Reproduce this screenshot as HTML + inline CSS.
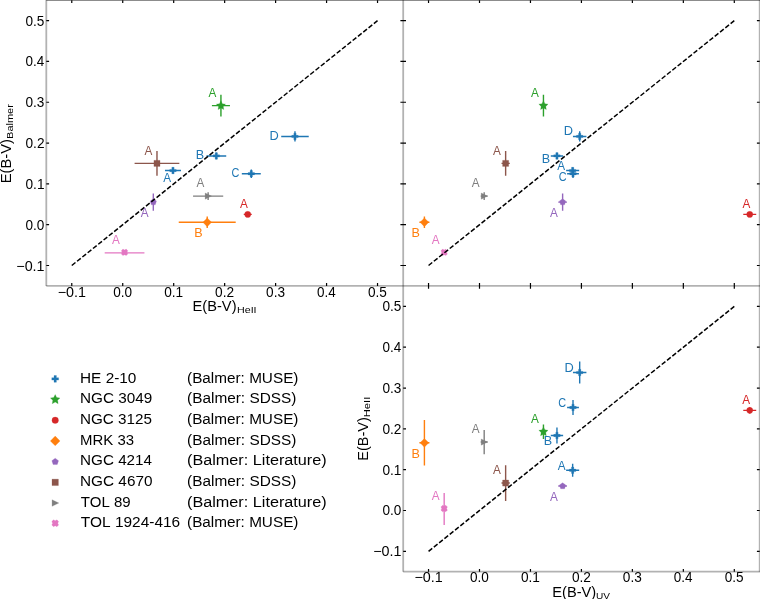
<!DOCTYPE html>
<html><head><meta charset="utf-8"><style>
html,body{margin:0;padding:0;background:#fff;}
body{width:760px;height:599px;overflow:hidden;}
svg{display:block;will-change:transform;font-family:"Liberation Sans",sans-serif;font-kerning:none;}
</style></head><body>
<svg width="760" height="599" viewBox="0 0 760 599" font-family="Liberation Sans, sans-serif">
<rect width="760" height="599" fill="#fff"/>
<line x1="46.3" y1="0" x2="46.3" y2="285.9" stroke="#000" stroke-opacity="0.30" stroke-width="1.8" fill="none"/>
<line x1="46.3" y1="0.4" x2="760" y2="0.4" stroke="#000" stroke-opacity="0.45" stroke-width="1.4"/>
<line x1="46.3" y1="285.9" x2="760" y2="285.9" stroke="#000" stroke-opacity="0.30" stroke-width="1.8" fill="none"/>
<line x1="403.2" y1="0" x2="403.2" y2="571.7" stroke="#000" stroke-opacity="0.30" stroke-width="1.8" fill="none"/>
<line x1="759.7" y1="0" x2="759.7" y2="571.7" stroke="#000" stroke-opacity="0.30" stroke-width="1.8" fill="none"/>
<line x1="403.2" y1="571.7" x2="760" y2="571.7" stroke="#000" stroke-opacity="0.30" stroke-width="1.8" fill="none"/>
<path d="M71.77,285.90v-2.8M71.77,0.20v2.8M46.30,265.50h2.8M403.20,265.50h-2.8M122.73,285.90v-2.8M122.73,0.20v2.8M46.30,224.69h2.8M403.20,224.69h-2.8M173.69,285.90v-2.8M173.69,0.20v2.8M46.30,183.88h2.8M403.20,183.88h-2.8M224.65,285.90v-2.8M224.65,0.20v2.8M46.30,143.06h2.8M403.20,143.06h-2.8M275.61,285.90v-2.8M275.61,0.20v2.8M46.30,102.25h2.8M403.20,102.25h-2.8M326.57,285.90v-2.8M326.57,0.20v2.8M46.30,61.43h2.8M403.20,61.43h-2.8M377.53,285.90v-2.8M377.53,0.20v2.8M46.30,20.62h2.8M403.20,20.62h-2.8M428.54,285.90v-2.8M428.54,0.20v2.8M403.20,265.50h2.8M759.70,265.50h-2.8M479.50,285.90v-2.8M479.50,0.20v2.8M403.20,224.69h2.8M759.70,224.69h-2.8M530.46,285.90v-2.8M530.46,0.20v2.8M403.20,183.88h2.8M759.70,183.88h-2.8M581.42,285.90v-2.8M581.42,0.20v2.8M403.20,143.06h2.8M759.70,143.06h-2.8M632.38,285.90v-2.8M632.38,0.20v2.8M403.20,102.25h2.8M759.70,102.25h-2.8M683.34,285.90v-2.8M683.34,0.20v2.8M403.20,61.43h2.8M759.70,61.43h-2.8M734.30,285.90v-2.8M734.30,0.20v2.8M403.20,20.62h2.8M759.70,20.62h-2.8M428.54,571.70v-2.8M428.54,285.90v2.8M403.20,551.30h2.8M759.70,551.30h-2.8M479.50,571.70v-2.8M479.50,285.90v2.8M403.20,510.48h2.8M759.70,510.48h-2.8M530.46,571.70v-2.8M530.46,285.90v2.8M403.20,469.67h2.8M759.70,469.67h-2.8M581.42,571.70v-2.8M581.42,285.90v2.8M403.20,428.85h2.8M759.70,428.85h-2.8M632.38,571.70v-2.8M632.38,285.90v2.8M403.20,388.04h2.8M759.70,388.04h-2.8M683.34,571.70v-2.8M683.34,285.90v2.8M403.20,347.22h2.8M759.70,347.22h-2.8M734.30,571.70v-2.8M734.30,285.90v2.8M403.20,306.41h2.8M759.70,306.41h-2.8" stroke="#000" stroke-width="1.2" fill="none"/>
<text x="57.74" y="296.60" font-size="13.90" textLength="28.25" lengthAdjust="spacingAndGlyphs" fill="#000">−0.1</text>
<text x="16.29" y="270.50" font-size="13.90" textLength="28.25" lengthAdjust="spacingAndGlyphs" fill="#000">−0.1</text>
<text x="113.20" y="296.60" font-size="13.90" textLength="18.86" lengthAdjust="spacingAndGlyphs" fill="#000">0.0</text>
<text x="25.52" y="229.69" font-size="13.90" textLength="18.86" lengthAdjust="spacingAndGlyphs" fill="#000">0.0</text>
<text x="164.16" y="296.60" font-size="13.90" textLength="19.00" lengthAdjust="spacingAndGlyphs" fill="#000">0.1</text>
<text x="25.52" y="188.88" font-size="13.90" textLength="19.00" lengthAdjust="spacingAndGlyphs" fill="#000">0.1</text>
<text x="215.12" y="296.60" font-size="13.90" textLength="19.02" lengthAdjust="spacingAndGlyphs" fill="#000">0.2</text>
<text x="25.52" y="148.06" font-size="13.90" textLength="19.02" lengthAdjust="spacingAndGlyphs" fill="#000">0.2</text>
<text x="266.08" y="296.60" font-size="13.90" textLength="18.93" lengthAdjust="spacingAndGlyphs" fill="#000">0.3</text>
<text x="25.52" y="107.25" font-size="13.90" textLength="18.93" lengthAdjust="spacingAndGlyphs" fill="#000">0.3</text>
<text x="317.04" y="296.60" font-size="13.90" textLength="18.72" lengthAdjust="spacingAndGlyphs" fill="#000">0.4</text>
<text x="25.52" y="66.43" font-size="13.90" textLength="18.72" lengthAdjust="spacingAndGlyphs" fill="#000">0.4</text>
<text x="368.00" y="296.60" font-size="13.90" textLength="18.90" lengthAdjust="spacingAndGlyphs" fill="#000">0.5</text>
<text x="25.52" y="25.62" font-size="13.90" textLength="18.90" lengthAdjust="spacingAndGlyphs" fill="#000">0.5</text>
<text x="414.51" y="582.40" font-size="13.90" textLength="28.25" lengthAdjust="spacingAndGlyphs" fill="#000">−0.1</text>
<text x="373.19" y="556.30" font-size="13.90" textLength="28.25" lengthAdjust="spacingAndGlyphs" fill="#000">−0.1</text>
<text x="469.97" y="582.40" font-size="13.90" textLength="18.86" lengthAdjust="spacingAndGlyphs" fill="#000">0.0</text>
<text x="382.42" y="515.48" font-size="13.90" textLength="18.86" lengthAdjust="spacingAndGlyphs" fill="#000">0.0</text>
<text x="520.93" y="582.40" font-size="13.90" textLength="19.00" lengthAdjust="spacingAndGlyphs" fill="#000">0.1</text>
<text x="382.42" y="474.67" font-size="13.90" textLength="19.00" lengthAdjust="spacingAndGlyphs" fill="#000">0.1</text>
<text x="571.89" y="582.40" font-size="13.90" textLength="19.02" lengthAdjust="spacingAndGlyphs" fill="#000">0.2</text>
<text x="382.42" y="433.85" font-size="13.90" textLength="19.02" lengthAdjust="spacingAndGlyphs" fill="#000">0.2</text>
<text x="622.85" y="582.40" font-size="13.90" textLength="18.93" lengthAdjust="spacingAndGlyphs" fill="#000">0.3</text>
<text x="382.42" y="393.04" font-size="13.90" textLength="18.93" lengthAdjust="spacingAndGlyphs" fill="#000">0.3</text>
<text x="673.81" y="582.40" font-size="13.90" textLength="18.72" lengthAdjust="spacingAndGlyphs" fill="#000">0.4</text>
<text x="382.42" y="352.22" font-size="13.90" textLength="18.72" lengthAdjust="spacingAndGlyphs" fill="#000">0.4</text>
<text x="724.77" y="582.40" font-size="13.90" textLength="18.90" lengthAdjust="spacingAndGlyphs" fill="#000">0.5</text>
<text x="382.42" y="311.41" font-size="13.90" textLength="18.90" lengthAdjust="spacingAndGlyphs" fill="#000">0.5</text>
<text x="192.60" y="311.00" font-size="14.70" textLength="43.91" lengthAdjust="spacingAndGlyphs" fill="#000">E(B-V)</text>
<text x="237.03" y="313.30" font-size="9.85" textLength="19.56" lengthAdjust="spacingAndGlyphs" fill="#000">HeII</text>
<text x="552.30" y="597.00" font-size="14.70" textLength="43.91" lengthAdjust="spacingAndGlyphs" fill="#000">E(B-V)</text>
<text x="596.02" y="599.30" font-size="9.85" textLength="14.02" lengthAdjust="spacingAndGlyphs" fill="#000">UV</text>
<g transform="translate(10.6,0) rotate(-90)">
<text x="-183.31" y="0.00" font-size="14.70" textLength="44.33" lengthAdjust="spacingAndGlyphs" fill="#000">E(B-V)</text>
<text x="-138.90" y="2.40" font-size="9.85" textLength="34.78" lengthAdjust="spacingAndGlyphs" fill="#000">Balmer</text>
</g>
<g transform="translate(367.7,0) rotate(-90)">
<text x="-460.69" y="0.00" font-size="14.70" textLength="43.38" lengthAdjust="spacingAndGlyphs" fill="#000">E(B-V)</text>
<text x="-417.21" y="2.40" font-size="9.85" textLength="20.44" lengthAdjust="spacingAndGlyphs" fill="#000">HeII</text>
</g>
<path d="M164.98,170.53H180.98M172.98,173.67V167.39" stroke="#1f77b4" stroke-width="1.4" fill="none"/>
<path d="M206.46,155.96H226.23M216.34,159.30V152.61" stroke="#1f77b4" stroke-width="1.4" fill="none"/>
<path d="M241.82,173.75H260.78M251.30,178.04V169.47" stroke="#1f77b4" stroke-width="1.4" fill="none"/>
<path d="M281.22,136.45H308.73M294.97,141.59V131.31" stroke="#1f77b4" stroke-width="1.4" fill="none"/>
<path d="M211.91,105.63H229.95M220.93,116.53V94.74" stroke="#2ca02c" stroke-width="1.4" fill="none"/>
<path d="M243.76,214.40H251.71M247.73,215.63V213.18" stroke="#d62728" stroke-width="1.4" fill="none"/>
<path d="M178.74,222.28H235.71M207.22,228.00V216.57" stroke="#ff7f0e" stroke-width="1.4" fill="none"/>
<path d="M151.27,202.08H155.34M153.31,210.77V193.38" stroke="#9467bd" stroke-width="1.4" fill="none"/>
<path d="M134.60,163.39H179.35M156.98,175.75V151.02" stroke="#8c564b" stroke-width="1.4" fill="none"/>
<path d="M193.05,196.12H223.22M208.14,199.92V192.32" stroke="#7f7f7f" stroke-width="1.4" fill="none"/>
<path d="M104.69,252.85H144.44M124.56,254.08V251.63" stroke="#e377c2" stroke-width="1.4" fill="none"/>
<polygon points="171.84,173.76 174.12,173.76 174.12,171.67 176.21,171.67 176.21,169.39 174.12,169.39 174.12,167.30 171.84,167.30 171.84,169.39 169.75,169.39 169.75,171.67 171.84,171.67" fill="#1f77b4" stroke="#1f77b4" stroke-width="0.25" stroke-linejoin="round"/>
<polygon points="215.20,159.19 217.48,159.19 217.48,157.10 219.57,157.10 219.57,154.82 217.48,154.82 217.48,152.73 215.20,152.73 215.20,154.82 213.11,154.82 213.11,157.10 215.20,157.10" fill="#1f77b4" stroke="#1f77b4" stroke-width="0.25" stroke-linejoin="round"/>
<polygon points="250.16,176.98 252.44,176.98 252.44,174.89 254.53,174.89 254.53,172.61 252.44,172.61 252.44,170.52 250.16,170.52 250.16,172.61 248.07,172.61 248.07,174.89 250.16,174.89" fill="#1f77b4" stroke="#1f77b4" stroke-width="0.25" stroke-linejoin="round"/>
<polygon points="293.83,139.68 296.11,139.68 296.11,137.59 298.20,137.59 298.20,135.31 296.11,135.31 296.11,133.22 293.83,133.22 293.83,135.31 291.74,135.31 291.74,137.59 293.83,137.59" fill="#1f77b4" stroke="#1f77b4" stroke-width="0.25" stroke-linejoin="round"/>
<polygon points="220.93,100.78 219.50,103.67 216.32,104.13 218.62,106.38 218.08,109.56 220.93,108.06 223.78,109.56 223.24,106.38 225.54,104.13 222.36,103.67" fill="#2ca02c" stroke="#2ca02c" stroke-width="0.25" stroke-linejoin="round"/>
<circle cx="247.73" cy="214.40" r="3.09" fill="#d62728" stroke="#d62728" stroke-width="0.25" stroke-linejoin="round"/>
<polygon points="207.22,217.92 211.59,222.28 207.22,226.65 202.86,222.28" fill="#ff7f0e" stroke="#ff7f0e" stroke-width="0.25" stroke-linejoin="round"/>
<polygon points="153.31,198.80 150.14,201.10 151.35,204.82 155.26,204.82 156.47,201.10" fill="#9467bd" stroke="#9467bd" stroke-width="0.25" stroke-linejoin="round"/>
<rect x="153.94" y="160.35" width="6.08" height="6.08" fill="#8c564b" stroke="#8c564b" stroke-width="0.25" stroke-linejoin="round"/>
<polygon points="211.56,196.12 205.15,192.98 205.15,199.25" fill="#7f7f7f" stroke="#7f7f7f" stroke-width="0.25" stroke-linejoin="round"/>
<polygon points="122.95,255.58 124.56,254.77 126.18,255.58 127.79,253.97 126.99,252.35 127.79,250.74 126.18,249.12 124.56,249.93 122.95,249.12 121.33,250.74 122.14,252.35 121.33,253.97" fill="#e377c2" stroke="#e377c2" stroke-width="0.25" stroke-linejoin="round"/>
<line x1="71.77" y1="265.50" x2="377.53" y2="20.62" stroke="#000" stroke-width="1.5" stroke-dasharray="4.74 2.05"/>
<text x="163.25" y="181.96" font-size="12.00" textLength="7.85" lengthAdjust="spacingAndGlyphs" fill="#1f77b4">A</text>
<text x="195.86" y="159.29" font-size="12.00" textLength="8.40" lengthAdjust="spacingAndGlyphs" fill="#1f77b4">B</text>
<text x="231.40" y="177.48" font-size="12.00" textLength="7.87" lengthAdjust="spacingAndGlyphs" fill="#1f77b4">C</text>
<text x="269.62" y="139.78" font-size="12.00" textLength="9.27" lengthAdjust="spacingAndGlyphs" fill="#1f77b4">D</text>
<text x="208.41" y="96.96" font-size="12.00" textLength="7.85" lengthAdjust="spacingAndGlyphs" fill="#2ca02c">A</text>
<text x="240.01" y="207.63" font-size="12.00" textLength="7.85" lengthAdjust="spacingAndGlyphs" fill="#d62728">A</text>
<text x="194.24" y="237.31" font-size="12.00" textLength="8.40" lengthAdjust="spacingAndGlyphs" fill="#ff7f0e">B</text>
<text x="140.78" y="217.11" font-size="12.00" textLength="7.85" lengthAdjust="spacingAndGlyphs" fill="#9467bd">A</text>
<text x="144.45" y="154.71" font-size="12.00" textLength="7.85" lengthAdjust="spacingAndGlyphs" fill="#8c564b">A</text>
<text x="196.52" y="187.45" font-size="12.00" textLength="7.85" lengthAdjust="spacingAndGlyphs" fill="#7f7f7f">A</text>
<text x="112.04" y="244.18" font-size="12.00" textLength="7.85" lengthAdjust="spacingAndGlyphs" fill="#e377c2">A</text>
<path d="M566.13,170.53H579.18M572.65,173.67V167.39" stroke="#1f77b4" stroke-width="1.4" fill="none"/>
<path d="M550.79,155.96H563.13M556.96,159.30V152.61" stroke="#1f77b4" stroke-width="1.4" fill="none"/>
<path d="M567.10,173.75H578.92M573.01,178.04V169.47" stroke="#1f77b4" stroke-width="1.4" fill="none"/>
<path d="M572.96,136.45H586.41M579.69,141.59V131.31" stroke="#1f77b4" stroke-width="1.4" fill="none"/>
<path d="M541.93,105.63H544.98M543.45,116.53V94.74" stroke="#2ca02c" stroke-width="1.4" fill="none"/>
<path d="M743.27,214.40H756.21M749.74,215.63V213.18" stroke="#d62728" stroke-width="1.4" fill="none"/>
<path d="M419.42,222.28H429.41M424.41,228.00V216.57" stroke="#ff7f0e" stroke-width="1.4" fill="none"/>
<path d="M558.28,202.08H566.95M562.62,210.77V193.38" stroke="#9467bd" stroke-width="1.4" fill="none"/>
<path d="M501.51,163.39H509.77M505.64,175.75V151.02" stroke="#8c564b" stroke-width="1.4" fill="none"/>
<path d="M480.72,196.12H487.65M484.19,199.92V192.32" stroke="#7f7f7f" stroke-width="1.4" fill="none"/>
<path d="M442.66,252.85H445.71M444.18,254.08V251.63" stroke="#e377c2" stroke-width="1.4" fill="none"/>
<polygon points="571.51,173.76 573.79,173.76 573.79,171.67 575.88,171.67 575.88,169.39 573.79,169.39 573.79,167.30 571.51,167.30 571.51,169.39 569.42,169.39 569.42,171.67 571.51,171.67" fill="#1f77b4" stroke="#1f77b4" stroke-width="0.25" stroke-linejoin="round"/>
<polygon points="555.82,159.19 558.10,159.19 558.10,157.10 560.19,157.10 560.19,154.82 558.10,154.82 558.10,152.73 555.82,152.73 555.82,154.82 553.73,154.82 553.73,157.10 555.82,157.10" fill="#1f77b4" stroke="#1f77b4" stroke-width="0.25" stroke-linejoin="round"/>
<polygon points="571.87,176.98 574.15,176.98 574.15,174.89 576.24,174.89 576.24,172.61 574.15,172.61 574.15,170.52 571.87,170.52 571.87,172.61 569.78,172.61 569.78,174.89 571.87,174.89" fill="#1f77b4" stroke="#1f77b4" stroke-width="0.25" stroke-linejoin="round"/>
<polygon points="578.55,139.68 580.83,139.68 580.83,137.59 582.92,137.59 582.92,135.31 580.83,135.31 580.83,133.22 578.55,133.22 578.55,135.31 576.46,135.31 576.46,137.59 578.55,137.59" fill="#1f77b4" stroke="#1f77b4" stroke-width="0.25" stroke-linejoin="round"/>
<polygon points="543.45,100.78 542.03,103.67 538.84,104.13 541.15,106.38 540.60,109.56 543.45,108.06 546.31,109.56 545.76,106.38 548.07,104.13 544.88,103.67" fill="#2ca02c" stroke="#2ca02c" stroke-width="0.25" stroke-linejoin="round"/>
<circle cx="749.74" cy="214.40" r="3.09" fill="#d62728" stroke="#d62728" stroke-width="0.25" stroke-linejoin="round"/>
<polygon points="424.41,217.92 428.78,222.28 424.41,226.65 420.05,222.28" fill="#ff7f0e" stroke="#ff7f0e" stroke-width="0.25" stroke-linejoin="round"/>
<polygon points="562.62,198.80 559.45,201.10 560.66,204.82 564.57,204.82 565.78,201.10" fill="#9467bd" stroke="#9467bd" stroke-width="0.25" stroke-linejoin="round"/>
<rect x="502.60" y="160.35" width="6.08" height="6.08" fill="#8c564b" stroke="#8c564b" stroke-width="0.25" stroke-linejoin="round"/>
<polygon points="487.61,196.12 481.20,192.98 481.20,199.25" fill="#7f7f7f" stroke="#7f7f7f" stroke-width="0.25" stroke-linejoin="round"/>
<polygon points="442.57,255.58 444.18,254.77 445.80,255.58 447.41,253.97 446.61,252.35 447.41,250.74 445.80,249.12 444.18,249.93 442.57,249.12 440.95,250.74 441.76,252.35 440.95,253.97" fill="#e377c2" stroke="#e377c2" stroke-width="0.25" stroke-linejoin="round"/>
<line x1="428.54" y1="265.50" x2="734.30" y2="20.62" stroke="#000" stroke-width="1.5" stroke-dasharray="4.74 2.05"/>
<text x="557.33" y="169.66" font-size="12.00" textLength="7.85" lengthAdjust="spacingAndGlyphs" fill="#1f77b4">A</text>
<text x="541.68" y="163.19" font-size="12.00" textLength="8.40" lengthAdjust="spacingAndGlyphs" fill="#1f77b4">B</text>
<text x="558.71" y="181.18" font-size="12.00" textLength="7.87" lengthAdjust="spacingAndGlyphs" fill="#1f77b4">C</text>
<text x="563.73" y="135.28" font-size="12.00" textLength="9.27" lengthAdjust="spacingAndGlyphs" fill="#1f77b4">D</text>
<text x="530.93" y="96.96" font-size="12.00" textLength="7.85" lengthAdjust="spacingAndGlyphs" fill="#2ca02c">A</text>
<text x="742.42" y="207.73" font-size="12.00" textLength="7.85" lengthAdjust="spacingAndGlyphs" fill="#d62728">A</text>
<text x="411.43" y="237.31" font-size="12.00" textLength="8.40" lengthAdjust="spacingAndGlyphs" fill="#ff7f0e">B</text>
<text x="550.09" y="217.11" font-size="12.00" textLength="7.85" lengthAdjust="spacingAndGlyphs" fill="#9467bd">A</text>
<text x="493.12" y="154.71" font-size="12.00" textLength="7.85" lengthAdjust="spacingAndGlyphs" fill="#8c564b">A</text>
<text x="471.67" y="187.45" font-size="12.00" textLength="7.85" lengthAdjust="spacingAndGlyphs" fill="#7f7f7f">A</text>
<text x="431.66" y="244.18" font-size="12.00" textLength="7.85" lengthAdjust="spacingAndGlyphs" fill="#e377c2">A</text>
<path d="M566.13,470.24H579.18M572.65,476.64V463.83" stroke="#1f77b4" stroke-width="1.4" fill="none"/>
<path d="M550.79,435.50H563.13M556.96,443.42V427.58" stroke="#1f77b4" stroke-width="1.4" fill="none"/>
<path d="M567.10,407.50H578.92M573.01,415.10V399.91" stroke="#1f77b4" stroke-width="1.4" fill="none"/>
<path d="M572.96,372.53H586.41M579.69,383.55V361.51" stroke="#1f77b4" stroke-width="1.4" fill="none"/>
<path d="M541.93,431.83H544.98M543.45,439.05V424.61" stroke="#2ca02c" stroke-width="1.4" fill="none"/>
<path d="M743.27,410.36H756.21M749.74,413.54V407.18" stroke="#d62728" stroke-width="1.4" fill="none"/>
<path d="M419.42,442.81H429.41M424.41,465.62V419.99" stroke="#ff7f0e" stroke-width="1.4" fill="none"/>
<path d="M558.28,485.99H566.95M562.62,487.62V484.36" stroke="#9467bd" stroke-width="1.4" fill="none"/>
<path d="M501.51,483.05H509.77M505.64,500.97V465.13" stroke="#8c564b" stroke-width="1.4" fill="none"/>
<path d="M480.72,442.07H487.65M484.19,454.16V429.99" stroke="#7f7f7f" stroke-width="1.4" fill="none"/>
<path d="M442.66,509.01H445.71M444.18,524.93V493.09" stroke="#e377c2" stroke-width="1.4" fill="none"/>
<polygon points="571.51,473.47 573.79,473.47 573.79,471.38 575.88,471.38 575.88,469.10 573.79,469.10 573.79,467.01 571.51,467.01 571.51,469.10 569.42,469.10 569.42,471.38 571.51,471.38" fill="#1f77b4" stroke="#1f77b4" stroke-width="0.25" stroke-linejoin="round"/>
<polygon points="555.82,438.73 558.10,438.73 558.10,436.64 560.19,436.64 560.19,434.36 558.10,434.36 558.10,432.27 555.82,432.27 555.82,434.36 553.73,434.36 553.73,436.64 555.82,436.64" fill="#1f77b4" stroke="#1f77b4" stroke-width="0.25" stroke-linejoin="round"/>
<polygon points="571.87,410.73 574.15,410.73 574.15,408.64 576.24,408.64 576.24,406.36 574.15,406.36 574.15,404.27 571.87,404.27 571.87,406.36 569.78,406.36 569.78,408.64 571.87,408.64" fill="#1f77b4" stroke="#1f77b4" stroke-width="0.25" stroke-linejoin="round"/>
<polygon points="578.55,375.76 580.83,375.76 580.83,373.67 582.92,373.67 582.92,371.39 580.83,371.39 580.83,369.30 578.55,369.30 578.55,371.39 576.46,371.39 576.46,373.67 578.55,373.67" fill="#1f77b4" stroke="#1f77b4" stroke-width="0.25" stroke-linejoin="round"/>
<polygon points="543.45,426.98 542.03,429.87 538.84,430.33 541.15,432.58 540.60,435.75 543.45,434.25 546.31,435.75 545.76,432.58 548.07,430.33 544.88,429.87" fill="#2ca02c" stroke="#2ca02c" stroke-width="0.25" stroke-linejoin="round"/>
<circle cx="749.74" cy="410.36" r="3.09" fill="#d62728" stroke="#d62728" stroke-width="0.25" stroke-linejoin="round"/>
<polygon points="424.41,438.44 428.78,442.81 424.41,447.17 420.05,442.81" fill="#ff7f0e" stroke="#ff7f0e" stroke-width="0.25" stroke-linejoin="round"/>
<polygon points="562.62,482.72 559.45,485.01 560.66,488.73 564.57,488.73 565.78,485.01" fill="#9467bd" stroke="#9467bd" stroke-width="0.25" stroke-linejoin="round"/>
<rect x="502.60" y="480.01" width="6.08" height="6.08" fill="#8c564b" stroke="#8c564b" stroke-width="0.25" stroke-linejoin="round"/>
<polygon points="487.61,442.07 481.20,438.94 481.20,445.21" fill="#7f7f7f" stroke="#7f7f7f" stroke-width="0.25" stroke-linejoin="round"/>
<polygon points="442.57,511.74 444.18,510.93 445.80,511.74 447.41,510.13 446.61,508.51 447.41,506.90 445.80,505.28 444.18,506.09 442.57,505.28 440.95,506.90 441.76,508.51 440.95,510.13" fill="#e377c2" stroke="#e377c2" stroke-width="0.25" stroke-linejoin="round"/>
<line x1="428.54" y1="551.30" x2="734.30" y2="306.41" stroke="#000" stroke-width="1.5" stroke-dasharray="4.74 2.05"/>
<text x="557.63" y="469.56" font-size="12.00" textLength="7.85" lengthAdjust="spacingAndGlyphs" fill="#1f77b4">A</text>
<text x="543.88" y="444.83" font-size="12.00" textLength="8.40" lengthAdjust="spacingAndGlyphs" fill="#1f77b4">B</text>
<text x="558.21" y="406.53" font-size="12.00" textLength="7.87" lengthAdjust="spacingAndGlyphs" fill="#1f77b4">C</text>
<text x="564.43" y="372.05" font-size="12.00" textLength="9.27" lengthAdjust="spacingAndGlyphs" fill="#1f77b4">D</text>
<text x="530.93" y="423.16" font-size="12.00" textLength="7.85" lengthAdjust="spacingAndGlyphs" fill="#2ca02c">A</text>
<text x="742.32" y="403.69" font-size="12.00" textLength="7.85" lengthAdjust="spacingAndGlyphs" fill="#d62728">A</text>
<text x="411.43" y="457.84" font-size="12.00" textLength="8.40" lengthAdjust="spacingAndGlyphs" fill="#ff7f0e">B</text>
<text x="550.09" y="501.02" font-size="12.00" textLength="7.85" lengthAdjust="spacingAndGlyphs" fill="#9467bd">A</text>
<text x="493.12" y="474.38" font-size="12.00" textLength="7.85" lengthAdjust="spacingAndGlyphs" fill="#8c564b">A</text>
<text x="471.67" y="433.40" font-size="12.00" textLength="7.85" lengthAdjust="spacingAndGlyphs" fill="#7f7f7f">A</text>
<text x="431.66" y="500.34" font-size="12.00" textLength="7.85" lengthAdjust="spacingAndGlyphs" fill="#e377c2">A</text>
<polygon points="54.00,382.30 56.40,382.30 56.40,380.10 58.60,380.10 58.60,377.70 56.40,377.70 56.40,375.50 54.00,375.50 54.00,377.70 51.80,377.70 51.80,380.10 54.00,380.10" fill="#1f77b4" stroke="#1f77b4" stroke-width="0.25" stroke-linejoin="round"/>
<text x="80.04" y="382.70" font-size="14.70" textLength="56.36" lengthAdjust="spacingAndGlyphs" fill="#000">HE 2-10</text>
<text x="187.05" y="382.70" font-size="14.70" textLength="111.40" lengthAdjust="spacingAndGlyphs" fill="#000">(Balmer: MUSE)</text>
<polygon points="55.20,394.59 53.73,397.57 50.44,398.04 52.82,400.36 52.26,403.64 55.20,402.09 58.14,403.64 57.58,400.36 59.96,398.04 56.67,397.57" fill="#2ca02c" stroke="#2ca02c" stroke-width="0.25" stroke-linejoin="round"/>
<text x="80.05" y="403.36" font-size="14.70" textLength="72.28" lengthAdjust="spacingAndGlyphs" fill="#000">NGC 3049</text>
<text x="187.05" y="403.36" font-size="14.70" textLength="109.31" lengthAdjust="spacingAndGlyphs" fill="#000">(Balmer: SDSS)</text>
<circle cx="55.20" cy="420.28" r="3.25" fill="#d62728" stroke="#d62728" stroke-width="0.25" stroke-linejoin="round"/>
<text x="80.05" y="424.02" font-size="14.70" textLength="71.89" lengthAdjust="spacingAndGlyphs" fill="#000">NGC 3125</text>
<text x="187.05" y="424.02" font-size="14.70" textLength="111.40" lengthAdjust="spacingAndGlyphs" fill="#000">(Balmer: MUSE)</text>
<polygon points="55.20,436.12 60.05,440.97 55.20,445.82 50.35,440.97" fill="#ff7f0e" stroke="#ff7f0e" stroke-width="0.25" stroke-linejoin="round"/>
<text x="80.07" y="444.68" font-size="14.70" textLength="53.98" lengthAdjust="spacingAndGlyphs" fill="#000">MRK 33</text>
<text x="187.05" y="444.68" font-size="14.70" textLength="109.31" lengthAdjust="spacingAndGlyphs" fill="#000">(Balmer: SDSS)</text>
<polygon points="55.20,458.21 51.87,460.63 53.14,464.54 57.26,464.54 58.53,460.63" fill="#9467bd" stroke="#9467bd" stroke-width="0.25" stroke-linejoin="round"/>
<text x="80.05" y="465.34" font-size="14.70" textLength="72.00" lengthAdjust="spacingAndGlyphs" fill="#000">NGC 4214</text>
<text x="186.99" y="465.34" font-size="14.70" textLength="139.71" lengthAdjust="spacingAndGlyphs" fill="#000">(Balmer: Literature)</text>
<rect x="52.00" y="479.15" width="6.40" height="6.40" fill="#8c564b" stroke="#8c564b" stroke-width="0.25" stroke-linejoin="round"/>
<text x="80.04" y="486.00" font-size="14.70" textLength="72.46" lengthAdjust="spacingAndGlyphs" fill="#000">NGC 4670</text>
<text x="187.05" y="486.00" font-size="14.70" textLength="109.31" lengthAdjust="spacingAndGlyphs" fill="#000">(Balmer: SDSS)</text>
<polygon points="58.80,503.04 52.05,499.74 52.05,506.34" fill="#7f7f7f" stroke="#7f7f7f" stroke-width="0.25" stroke-linejoin="round"/>
<text x="80.66" y="506.66" font-size="14.70" textLength="50.05" lengthAdjust="spacingAndGlyphs" fill="#000">TOL 89</text>
<text x="186.99" y="506.66" font-size="14.70" textLength="139.71" lengthAdjust="spacingAndGlyphs" fill="#000">(Balmer: Literature)</text>
<polygon points="53.50,526.63 55.20,525.78 56.90,526.63 58.60,524.93 57.75,523.23 58.60,521.53 56.90,519.83 55.20,520.68 53.50,519.83 51.80,521.53 52.65,523.23 51.80,524.93" fill="#e377c2" stroke="#e377c2" stroke-width="0.25" stroke-linejoin="round"/>
<text x="80.65" y="527.32" font-size="14.70" textLength="99.52" lengthAdjust="spacingAndGlyphs" fill="#000">TOL 1924-416</text>
<text x="187.05" y="527.32" font-size="14.70" textLength="111.40" lengthAdjust="spacingAndGlyphs" fill="#000">(Balmer: MUSE)</text>
</svg>
</body></html>
